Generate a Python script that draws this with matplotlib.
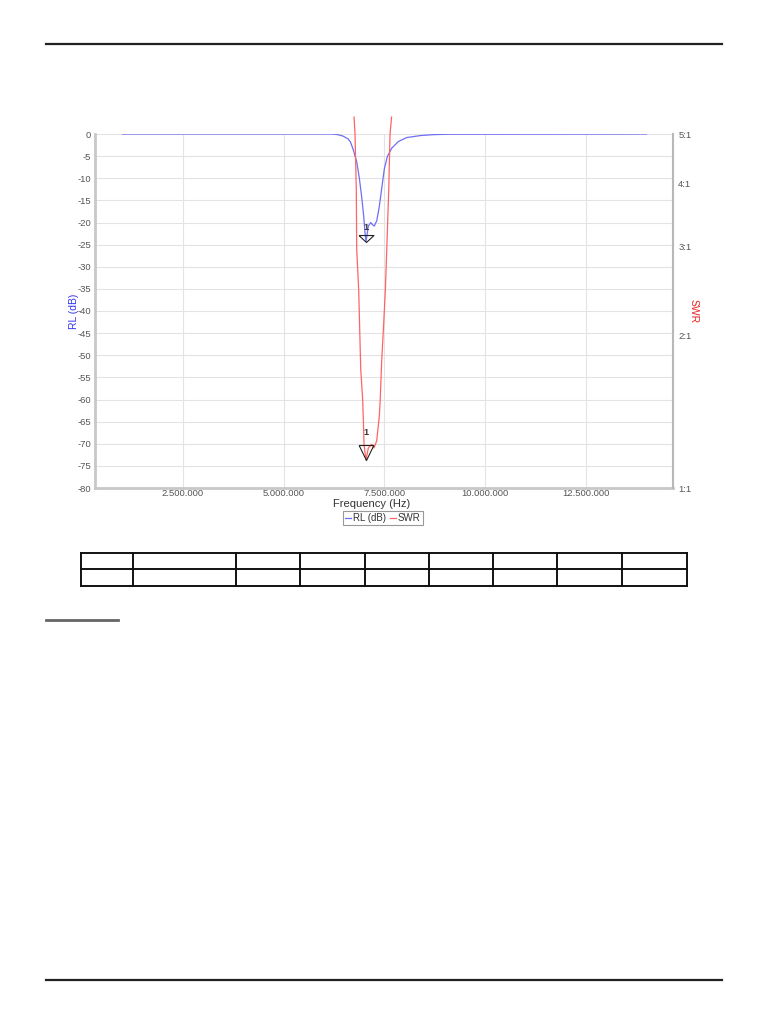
import numpy as np
import matplotlib
matplotlib.use("Agg")
import matplotlib.pyplot as plt
from matplotlib.ticker import FuncFormatter, FixedLocator, NullLocator
from matplotlib.lines import Line2D

plt.rcParams['font.family'] = ['Liberation Sans', 'DejaVu Sans']
plt.rcParams['axes.unicode_minus'] = False

# return loss trace (MHz, dB)
rl_freq_mhz = [1.0, 6.20, 6.32, 6.47, 6.60, 6.66, 6.73, 6.815, 6.88, 6.94, 6.99, 7.02,
               7.046, 7.103, 7.163, 7.205, 7.250, 7.311, 7.368, 7.435, 7.499, 7.574,
               7.683, 7.847, 8.055, 8.40, 8.708, 9.05, 14.0]
rl_db = [0.0, 0.0, -0.1, -0.45, -1.1, -1.8, -3.6, -6.3, -10.0, -14.4, -18.8, -22.3,
         -24.3, -20.8, -20.0, -20.5, -20.8, -19.6, -16.8, -12.3, -7.9, -5.1,
         -3.2, -1.7, -0.8, -0.35, -0.15, -0.05, 0.0]

# SWR trace (MHz, ratio)
swr_freq_mhz = [6.748, 6.773, 6.804, 6.815, 6.864, 6.889, 6.915, 6.963, 6.979, 6.997,
                7.046, 7.103, 7.187, 7.244, 7.311, 7.376, 7.397, 7.435, 7.475, 7.525,
                7.559, 7.609, 7.641, 7.679]
swr = [5.4, 5.0, 3.88, 2.95, 2.46, 2.05, 1.71, 1.49, 1.36, 1.215,
       1.136, 1.20, 1.22, 1.20, 1.24, 1.39, 1.49, 1.79, 2.05, 2.46,
       2.95, 3.88, 5.0, 5.4]

# marker 1
marker_freq_mhz = 7.046
marker_rl = -24.3
marker_swr = 1.136

x_ticks = [2500000, 5000000, 7500000, 10000000, 12500000]
rl_ticks = list(range(0, -85, -5))
swr_ticks = [1, 2, 3, 4, 5]
swr_labels = ["1:1", "2:1", "3:1", "4:1", "5:1"]

BLUE = "#6f6ff5"
RED = "#ff6464"
GRID = "#e3e3e3"
TXT = "#555555"

W, H = 768, 1024
fig = plt.figure(figsize=(W / 100, H / 100), dpi=100)

# page decorations (pixel coords)
page = fig.add_axes([0, 0, 1, 1], zorder=-1)
page.set_xlim(0, W)
page.set_ylim(H, 0)
page.axis("off")
page.plot([46, 722], [44, 44], color="#222222", lw=1.6)
page.plot([46, 722], [980, 980], color="#222222", lw=1.6)
page.plot([46, 118], [620, 620], color="#666666", lw=2)
col_edges = [81, 133, 236, 300, 365, 429, 493, 557, 622, 687]
row_edges = [553, 569, 586]
for yy in row_edges:
    page.plot([col_edges[0], col_edges[-1]], [yy, yy], color="#111111", lw=1.4)
for xx in col_edges:
    page.plot([xx, xx], [row_edges[0], row_edges[-1]], color="#111111", lw=1.4)

# chart
left, right, top, bottom = 95, 672.7, 134, 488
ax = fig.add_axes([left / W, 1 - bottom / H, (right - left) / W, (bottom - top) / H])
ax2 = ax.twinx()

x_rl = np.array(rl_freq_mhz) * 1e6
x_swr = np.array(swr_freq_mhz) * 1e6

ax.plot(x_rl, rl_db, color=BLUE, lw=0.9, zorder=3)
ax.set_xlim(0.325e6, 14.65e6)
ax.set_ylim(-80, 0)
ax.xaxis.set_major_locator(FixedLocator(x_ticks))
ax.yaxis.set_major_locator(FixedLocator(rl_ticks))
ax.xaxis.set_major_formatter(FuncFormatter(lambda v, p: f"{int(v):,}".replace(",", ".")))
ax.grid(True, color=GRID, lw=0.8)
ax.set_axisbelow(True)
ax.tick_params(axis="y", length=0, labelsize=6.8, labelcolor=TXT, pad=3)
ax.tick_params(axis="x", length=0, labelsize=6.8, labelcolor=TXT, pad=1)
for s in ["top", "right"]:
    ax.spines[s].set_visible(False)
for s in ["left", "bottom"]:
    ax.spines[s].set_color("#c8c8c8")
    ax.spines[s].set_linewidth(2)
fig.text(74 / W, 1 - 311 / H, "RL (dB)", color="#3333ee", fontsize=7.5,
         rotation=90, ha="center", va="center")
fig.text(372 / W, 1 - 504 / H, "Frequency (Hz)", color="#333333", fontsize=8,
         ha="center", va="center")

ax2.plot(x_swr, swr, color=RED, lw=0.9, zorder=3, clip_on=False)
ax2.set_yscale("log")
ax2.set_ylim(1, 5)
ax2.yaxis.set_major_locator(FixedLocator(swr_ticks))
ax2.yaxis.set_minor_locator(NullLocator())
ax2.set_yticklabels(swr_labels)
ax2.tick_params(length=0, labelsize=6.8, labelcolor=TXT, pad=4)
for s in ["top", "left", "bottom"]:
    ax2.spines[s].set_visible(False)
ax2.spines["right"].set_color("#b8b8b8")
ax2.spines["right"].set_linewidth(1.5)
fig.text(694 / W, 1 - 311 / H, "SWR", color="#ee2222", fontsize=7.5,
         rotation=270, ha="center", va="center")

# marker triangles (apex at the data point)
tri_flat = [(-1, 0.93), (1, 0.93), (0, 0), (-1, 0.93)]
tri_tall = [(-1, 2.04), (1, 2.04), (0, 0), (-1, 2.04)]
ax.plot([marker_freq_mhz * 1e6], [marker_rl], marker=tri_flat, markersize=10.8,
        markerfacecolor="none", markeredgecolor="#222222", markeredgewidth=0.8,
        linestyle="none", zorder=5)
ax.annotate("1", (marker_freq_mhz * 1e6, marker_rl), xytext=(0, 10),
            textcoords="offset points", ha="center", va="center",
            fontsize=6.5, color="#333333", fontweight="bold")
ax2.plot([marker_freq_mhz * 1e6], [marker_swr], marker=tri_tall, markersize=21.6,
         markerfacecolor="none", markeredgecolor="#222222", markeredgewidth=0.8,
         linestyle="none", zorder=5, clip_on=False)
ax2.annotate("1", (marker_freq_mhz * 1e6, marker_swr), xytext=(0, 20),
             textcoords="offset points", ha="center", va="center",
             fontsize=6.5, color="#333333", fontweight="bold")

handles = [Line2D([], [], color=BLUE, lw=0.9), Line2D([], [], color=RED, lw=0.9)]
leg = fig.legend(handles, ["RL (dB)", "SWR"], loc="center",
                 bbox_to_anchor=(383 / W, 1 - 518 / H), ncol=2, fontsize=7,
                 handlelength=0.6, handletextpad=0.2, columnspacing=0.4,
                 borderpad=0.2, fancybox=False, edgecolor="#999999", framealpha=1)
for t in leg.get_texts():
    t.set_color("#333333")
leg.get_frame().set_linewidth(0.8)

fig.savefig("out.png", dpi=100)
